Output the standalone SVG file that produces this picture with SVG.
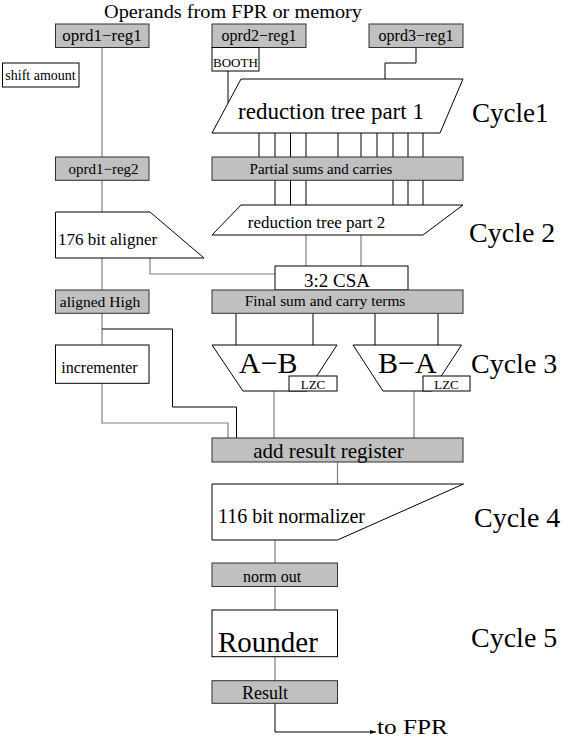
<svg xmlns="http://www.w3.org/2000/svg" width="570" height="739" viewBox="0 0 570 739" font-family="Liberation Serif, serif">
<defs>
<style>
text{font-family:"Liberation Serif","Times New Roman",serif;fill:#000}
.reg{fill:#c0c0c0;stroke:#303030;stroke-width:1}
.blk{fill:#fff;stroke:#000;stroke-width:1}
.g{fill:none;stroke:#808080;stroke-width:1.2}
.k{fill:none;stroke:#000;stroke-width:1}
.m{text-anchor:middle}
</style>
<marker id="arr" markerWidth="6" markerHeight="6" refX="6" refY="3" orient="auto" markerUnits="userSpaceOnUse">
<path d="M0,1 L6,3 L0,5 Z" fill="#000"/>
</marker>
</defs>
<rect width="570" height="739" fill="#fff"/>
<text x="233" y="17.5" class="m" font-size="19" textLength="258" lengthAdjust="spacingAndGlyphs">Operands from FPR or memory</text>

<g id="connectors">
<line class="g" x1="102" y1="47" x2="102" y2="157"/>
<line class="k" x1="228" y1="71" x2="228" y2="103"/>
<polyline class="k" points="416,47 416,63 385,63 385,79"/>
<g class="k">
<line x1="259" y1="133" x2="259" y2="157"/><line x1="275" y1="133" x2="275" y2="157"/>
<line x1="290.5" y1="133" x2="290.5" y2="157"/><line x1="306" y1="133" x2="306" y2="157"/>
<line x1="338" y1="133" x2="338" y2="157"/><line x1="361" y1="133" x2="361" y2="157"/>
<line x1="377" y1="133" x2="377" y2="157"/><line x1="393" y1="133" x2="393" y2="157"/>
<line x1="408" y1="133" x2="408" y2="157"/><line x1="423" y1="133" x2="423" y2="157"/>
<line x1="275" y1="180" x2="275" y2="205"/><line x1="290.5" y1="180" x2="290.5" y2="205"/>
<line x1="306" y1="180" x2="306" y2="205"/><line x1="393" y1="180" x2="393" y2="205"/>
<line x1="408" y1="180" x2="408" y2="205"/><line x1="423" y1="180" x2="423" y2="205"/>
</g>
<line class="g" x1="102" y1="180" x2="102" y2="212"/>
<line class="g" x1="102" y1="258" x2="102" y2="290"/>
<polyline class="g" points="150,258 150,274 275,274"/>
<line class="g" x1="306" y1="235" x2="306" y2="266"/>
<line class="g" x1="361" y1="235" x2="361" y2="266"/>
<line class="g" x1="102" y1="313" x2="102" y2="345"/>
<polyline class="k" points="102,329 172.5,329 172.5,407 236.5,407 236.5,438"/>
<polyline class="g" points="102,383 102,423 228,423 228,438"/>
<line class="k" x1="236" y1="313" x2="236" y2="345"/>
<line class="k" x1="313" y1="313" x2="313" y2="345"/>
<line class="k" x1="375" y1="313" x2="375" y2="345"/>
<line class="k" x1="438" y1="313" x2="438" y2="345"/>
<line class="g" x1="274" y1="391" x2="274" y2="438"/>
<line class="g" x1="414" y1="391" x2="414" y2="438"/>
<line class="g" x1="337.5" y1="462" x2="337.5" y2="484"/>
<line class="g" x1="275" y1="540" x2="275" y2="563"/>
<line class="g" x1="275" y1="587" x2="275" y2="610"/>
<line class="g" x1="275" y1="657" x2="275" y2="681"/>
<polyline class="k" points="275,703 275,732 376,732" marker-end="url(#arr)"/>
</g>

<g id="oprd1-reg1"><rect class="reg" x="55.5" y="24" width="93.5" height="23.5"/><text x="102" y="41" class="m" font-size="17">oprd1−reg1</text></g>
<g id="oprd2-reg1"><rect class="reg" x="212" y="24" width="94" height="23.5"/><text x="259" y="41" class="m" font-size="16">oprd2−reg1</text></g>
<g id="oprd3-reg1"><rect class="reg" x="369" y="24" width="94" height="23.5"/><text x="416" y="41" class="m" font-size="16">oprd3−reg1</text></g>
<g id="booth"><rect class="blk" x="212" y="47.5" width="47" height="23.5"/><text x="213" y="67" font-size="13">BOOTH</text></g>
<g id="shift-amount"><rect class="blk" x="2.5" y="63" width="76.5" height="24"/><text x="40.5" y="80" class="m" font-size="14">shift amount</text></g>
<g id="tree1"><polygon class="blk" points="241,79 463,79 440,133 212,133"/><text x="331" y="119" class="m" font-size="23">reduction tree part 1</text></g>
<text x="472" y="122" font-size="27">Cycle1</text>
<g id="partial-sums"><rect class="reg" x="212" y="157" width="251" height="23.3"/><text x="321" y="174" class="m" font-size="15">Partial sums and carries</text></g>
<g id="oprd1-reg2"><rect class="reg" x="55.5" y="157" width="93.5" height="23.3"/><text x="103.5" y="174" class="m" font-size="15">oprd1−reg2</text></g>
<g id="tree2"><polygon class="blk" points="241,205 463,205 423,235 212,235"/><text x="316.5" y="228" class="m" font-size="17">reduction tree part 2</text></g>
<text x="469" y="242" font-size="28">Cycle 2</text>
<g id="aligner"><polygon class="blk" points="55.5,212 150,212 204,258 55.5,258"/><text x="58" y="245" font-size="17">176 bit aligner</text></g>
<g id="csa"><rect class="blk" x="275" y="266" width="133" height="24"/><text x="337" y="286.5" class="m" font-size="19">3:2 CSA</text></g>
<g id="aligned-high"><rect class="reg" x="55.5" y="290" width="93.5" height="23.3"/><text x="100" y="306.5" class="m" font-size="15.5">aligned High</text></g>
<g id="final-sum"><rect class="reg" x="212" y="290" width="251" height="23.3"/><text x="325" y="306" class="m" font-size="15.4">Final sum and carry terms</text></g>
<g id="incrementer"><rect class="blk" x="55.5" y="345" width="93.5" height="38.3"/><text x="99.5" y="372.5" class="m" font-size="16">incrementer</text></g>
<g id="a-minus-b"><polygon class="blk" points="212,345 337,345 307,391 243,391"/><text x="239" y="373" font-size="30">A−B</text><rect class="blk" x="289" y="376" width="48" height="15"/><text x="313" y="388.5" class="m" font-size="13">LZC</text></g>
<g id="b-minus-a"><polygon class="blk" points="353,345 461.5,345 431.5,391 383,391"/><text x="378" y="373" font-size="30">B−A</text><rect class="blk" x="423" y="376" width="47" height="15"/><text x="446.5" y="388.5" class="m" font-size="13">LZC</text></g>
<text x="471" y="373" font-size="28">Cycle 3</text>
<g id="add-result"><rect class="reg" x="212" y="438" width="251" height="24"/><text x="328.5" y="458" class="m" font-size="21">add result register</text></g>
<g id="normalizer"><polygon class="blk" points="212,484 463.5,484 337.5,540 212,540"/><text x="218" y="523" font-size="20">116 bit normalizer</text></g>
<text x="474" y="527" font-size="28">Cycle 4</text>
<g id="norm-out"><rect class="reg" x="212" y="563" width="125.5" height="23.5"/><text x="272" y="582" class="m" font-size="16">norm out</text></g>
<g id="rounder"><rect class="blk" x="212" y="610" width="125.5" height="46.7"/><text x="218" y="651.5" font-size="29">Rounder</text></g>
<text x="471" y="647" font-size="28">Cycle 5</text>
<g id="result"><rect class="reg" x="212" y="680.7" width="125.5" height="22.6"/><text x="265" y="699" class="m" font-size="18">Result</text></g>
<text x="377" y="733.5" font-size="22" textLength="71" lengthAdjust="spacingAndGlyphs">to FPR</text>
</svg>
